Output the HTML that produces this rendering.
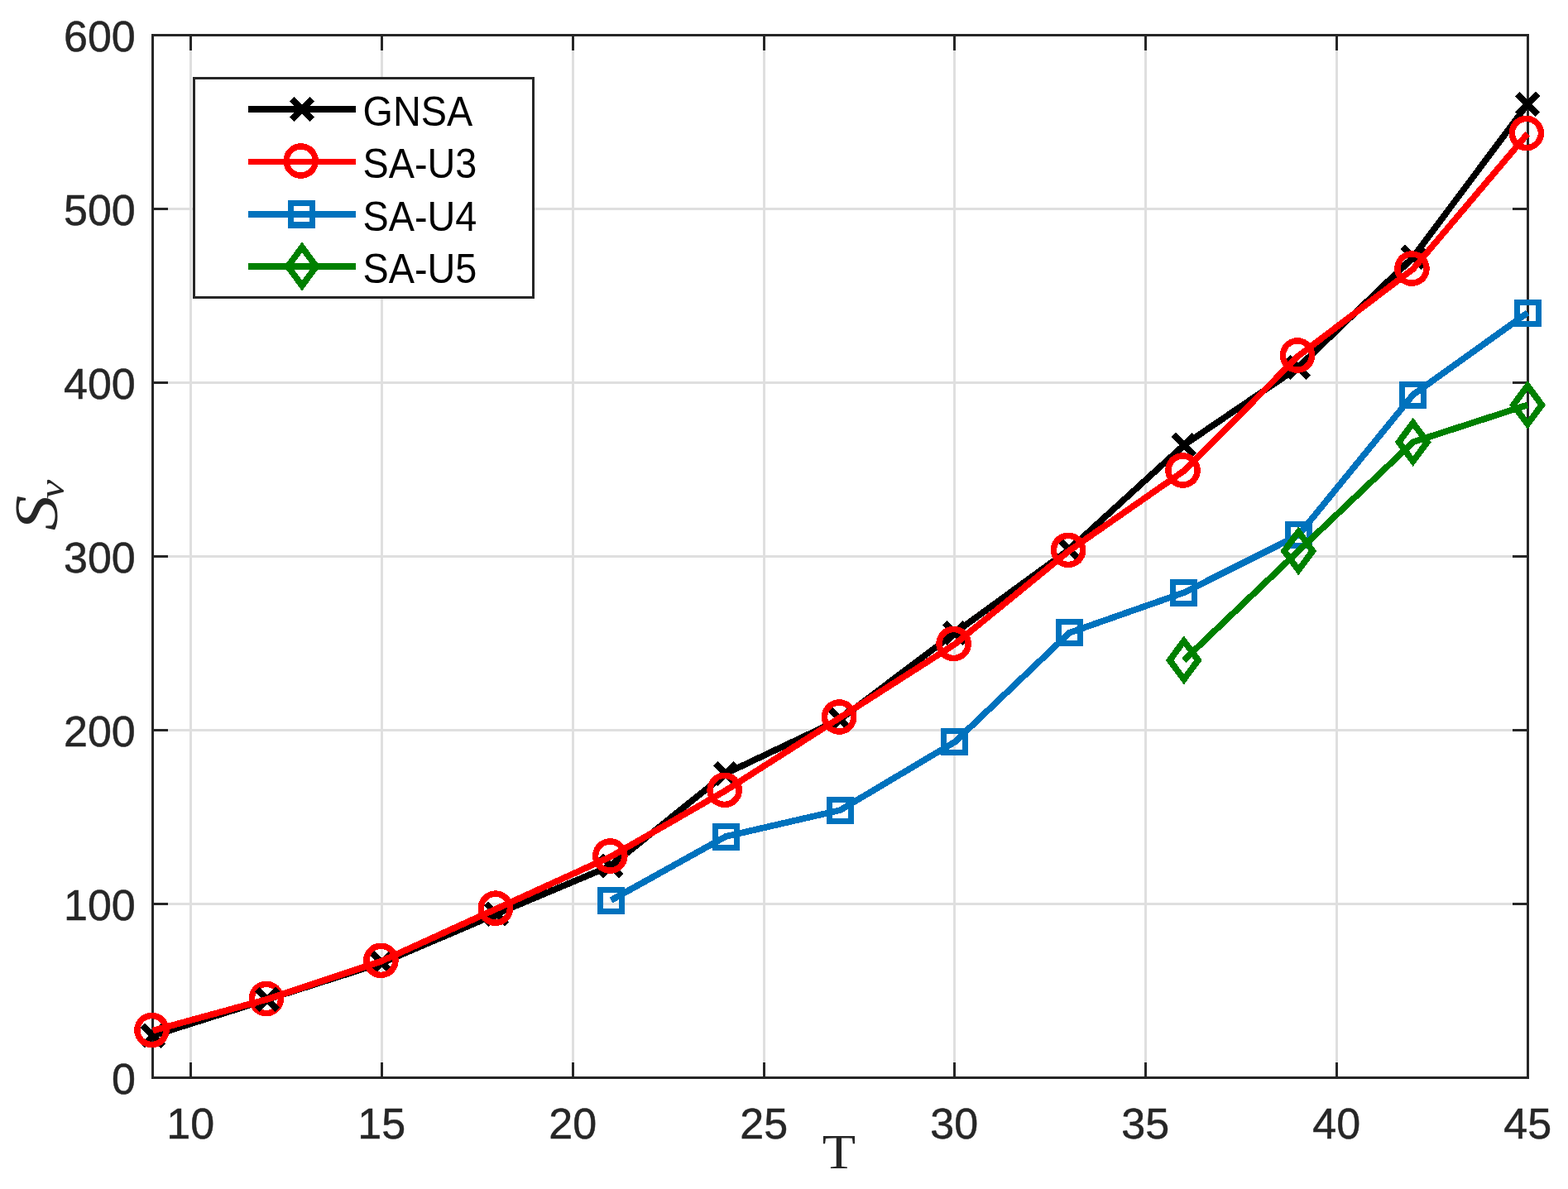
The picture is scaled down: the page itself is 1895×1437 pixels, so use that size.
<!DOCTYPE html>
<html lang="en"><head><meta charset="utf-8"><title>Figure</title>
<style>
html,body{margin:0;padding:0;background:#fff;}
body{width:1895px;height:1437px;overflow:hidden;}
svg{display:block;}
.tick{font-family:"Liberation Sans",Arial,Helvetica,sans-serif;font-size:52px;fill:#262626;stroke:#262626;stroke-width:0.5px;}
.leg{font-family:"Liberation Sans",Arial,Helvetica,sans-serif;font-size:49.3px;fill:#000;}
.lab{font-family:"Liberation Serif","Times New Roman",serif;fill:#262626;}
</style></head><body>
<svg width="1895" height="1437" viewBox="0 0 1895 1437">
<rect x="0" y="0" width="1895" height="1437" fill="#fff"/>
<defs><path id="ring" fill-rule="evenodd" d="M21.29 0.70L21.20 2.09L21.02 3.47L20.74 4.84L20.38 6.18L19.93 7.50L19.40 8.79L18.78 10.04L18.09 11.25L17.31 12.41L16.47 13.51L15.55 14.56L14.56 15.55L13.51 16.47L12.41 17.31L11.25 18.09L10.04 18.78L8.79 19.40L7.50 19.93L6.18 20.38L4.84 20.74L3.47 21.02L2.09 21.20L0.70 21.29L-0.70 21.29L-2.09 21.20L-3.47 21.02L-4.84 20.74L-6.18 20.38L-7.50 19.93L-8.79 19.40L-10.04 18.78L-11.25 18.09L-12.41 17.31L-13.51 16.47L-14.56 15.55L-15.55 14.56L-16.47 13.51L-17.31 12.41L-18.09 11.25L-18.78 10.04L-19.40 8.79L-19.93 7.50L-20.38 6.18L-20.74 4.84L-21.02 3.47L-21.20 2.09L-21.29 0.70L-21.29 -0.70L-21.20 -2.09L-21.02 -3.47L-20.74 -4.84L-20.38 -6.18L-19.93 -7.50L-19.40 -8.79L-18.78 -10.04L-18.09 -11.25L-17.31 -12.41L-16.47 -13.51L-15.55 -14.56L-14.56 -15.55L-13.51 -16.47L-12.41 -17.31L-11.25 -18.09L-10.04 -18.78L-8.79 -19.40L-7.50 -19.93L-6.18 -20.38L-4.84 -20.74L-3.47 -21.02L-2.09 -21.20L-0.70 -21.29L0.70 -21.29L2.09 -21.20L3.47 -21.02L4.84 -20.74L6.18 -20.38L7.50 -19.93L8.79 -19.40L10.04 -18.78L11.25 -18.09L12.41 -17.31L13.51 -16.47L14.56 -15.55L15.55 -14.56L16.47 -13.51L17.31 -12.41L18.09 -11.25L18.78 -10.04L19.40 -8.79L19.93 -7.50L20.38 -6.18L20.74 -4.84L21.02 -3.47L21.20 -2.09L21.29 -0.70ZM13.79 -0.45L13.73 -1.35L13.62 -2.25L13.44 -3.13L13.21 -4.01L12.92 -4.86L12.57 -5.70L12.17 -6.51L11.72 -7.29L11.22 -8.04L10.67 -8.75L10.07 -9.43L9.43 -10.07L8.75 -10.67L8.04 -11.22L7.29 -11.72L6.51 -12.17L5.70 -12.57L4.86 -12.92L4.01 -13.21L3.13 -13.44L2.25 -13.62L1.35 -13.73L0.45 -13.79L-0.45 -13.79L-1.35 -13.73L-2.25 -13.62L-3.13 -13.44L-4.01 -13.21L-4.86 -12.92L-5.70 -12.57L-6.51 -12.17L-7.29 -11.72L-8.04 -11.22L-8.75 -10.67L-9.43 -10.07L-10.07 -9.43L-10.67 -8.75L-11.22 -8.04L-11.72 -7.29L-12.17 -6.51L-12.57 -5.70L-12.92 -4.86L-13.21 -4.01L-13.44 -3.13L-13.62 -2.25L-13.73 -1.35L-13.79 -0.45L-13.79 0.45L-13.73 1.35L-13.62 2.25L-13.44 3.13L-13.21 4.01L-12.92 4.86L-12.57 5.70L-12.17 6.51L-11.72 7.29L-11.22 8.04L-10.67 8.75L-10.07 9.43L-9.43 10.07L-8.75 10.67L-8.04 11.22L-7.29 11.72L-6.51 12.17L-5.70 12.57L-4.86 12.92L-4.01 13.21L-3.13 13.44L-2.25 13.62L-1.35 13.73L-0.45 13.79L0.45 13.79L1.35 13.73L2.25 13.62L3.13 13.44L4.01 13.21L4.86 12.92L5.70 12.57L6.51 12.17L7.29 11.72L8.04 11.22L8.75 10.67L9.43 10.07L10.07 9.43L10.67 8.75L11.22 8.04L11.72 7.29L12.17 6.51L12.57 5.70L12.92 4.86L13.21 4.01L13.44 3.13L13.62 2.25L13.73 1.35L13.79 0.45Z"/>
<path id="sq" fill-rule="evenodd" d="M-16.5 -16.5H16.5V16.5H-16.5ZM-9.5 -9.5V9.5H9.5V-9.5Z"/>
<path id="sql" fill-rule="evenodd" d="M-16.5 -16.9H16.5V17H-16.5ZM-9.5 -10V9H9.5V-10Z"/>
<path id="dia" fill-rule="evenodd" d="M0 -29.6L22 0L0 29.6L-22 0ZM0 -16.9L-12.3 0L0 16.9L12.3 0Z"/></defs>
<g stroke="#dfdfdf" stroke-width="3" fill="none">
<line x1="230.5" y1="42.5" x2="230.5" y2="1302.5"/>
<line x1="461.5" y1="42.5" x2="461.5" y2="1302.5"/>
<line x1="692.5" y1="42.5" x2="692.5" y2="1302.5"/>
<line x1="923.5" y1="42.5" x2="923.5" y2="1302.5"/>
<line x1="1153.5" y1="42.5" x2="1153.5" y2="1302.5"/>
<line x1="1384.5" y1="42.5" x2="1384.5" y2="1302.5"/>
<line x1="1615.5" y1="42.5" x2="1615.5" y2="1302.5"/>
<line x1="184.5" y1="1092.5" x2="1846.5" y2="1092.5"/>
<line x1="184.5" y1="882.5" x2="1846.5" y2="882.5"/>
<line x1="184.5" y1="672.5" x2="1846.5" y2="672.5"/>
<line x1="184.5" y1="462.5" x2="1846.5" y2="462.5"/>
<line x1="184.5" y1="252.5" x2="1846.5" y2="252.5"/>
</g>
<g stroke="#262626" stroke-width="3" fill="none">
<rect x="184.5" y="42.5" width="1662" height="1260"/>
<line x1="230.5" y1="1302.5" x2="230.5" y2="1284"/>
<line x1="230.5" y1="42.5" x2="230.5" y2="61"/>
<line x1="461.5" y1="1302.5" x2="461.5" y2="1284"/>
<line x1="461.5" y1="42.5" x2="461.5" y2="61"/>
<line x1="692.5" y1="1302.5" x2="692.5" y2="1284"/>
<line x1="692.5" y1="42.5" x2="692.5" y2="61"/>
<line x1="923.5" y1="1302.5" x2="923.5" y2="1284"/>
<line x1="923.5" y1="42.5" x2="923.5" y2="61"/>
<line x1="1153.5" y1="1302.5" x2="1153.5" y2="1284"/>
<line x1="1153.5" y1="42.5" x2="1153.5" y2="61"/>
<line x1="1384.5" y1="1302.5" x2="1384.5" y2="1284"/>
<line x1="1384.5" y1="42.5" x2="1384.5" y2="61"/>
<line x1="1615.5" y1="1302.5" x2="1615.5" y2="1284"/>
<line x1="1615.5" y1="42.5" x2="1615.5" y2="61"/>
<line x1="184.5" y1="1092.5" x2="203" y2="1092.5"/>
<line x1="1846.5" y1="1092.5" x2="1828" y2="1092.5"/>
<line x1="184.5" y1="882.5" x2="203" y2="882.5"/>
<line x1="1846.5" y1="882.5" x2="1828" y2="882.5"/>
<line x1="184.5" y1="672.5" x2="203" y2="672.5"/>
<line x1="1846.5" y1="672.5" x2="1828" y2="672.5"/>
<line x1="184.5" y1="462.5" x2="203" y2="462.5"/>
<line x1="1846.5" y1="462.5" x2="1828" y2="462.5"/>
<line x1="184.5" y1="252.5" x2="203" y2="252.5"/>
<line x1="1846.5" y1="252.5" x2="1828" y2="252.5"/>
</g>
<g class="tick" text-anchor="middle">
<text transform="translate(230.2,1376) scale(1,1)">10</text>
<text transform="translate(461.2,1376) scale(1,1)">15</text>
<text transform="translate(692.2,1376) scale(1,1)">20</text>
<text transform="translate(923.2,1376) scale(1,1)">25</text>
<text transform="translate(1153.2,1376) scale(1,1)">30</text>
<text transform="translate(1384.2,1376) scale(1,1)">35</text>
<text transform="translate(1615.2,1376) scale(1,1)">40</text>
<text transform="translate(1846.2,1376) scale(1,1)">45</text>
</g>
<g class="tick" text-anchor="end">
<text transform="translate(163.8,1322.1) scale(1,1)">0</text>
<text transform="translate(163.8,1112.1) scale(1,1)">100</text>
<text transform="translate(163.8,902.1) scale(1,1)">200</text>
<text transform="translate(163.8,692.1) scale(1,1)">300</text>
<text transform="translate(163.8,482.1) scale(1,1)">400</text>
<text transform="translate(163.8,272.1) scale(1,1)">500</text>
<text transform="translate(163.8,62.1) scale(1,1)">600</text>
</g>
<g shape-rendering="crispEdges">
<polyline points="184.75,1251.8 323.2,1207.9 461.65,1163.7 600.1,1104.6 738.55,1046.3 877,935 1015.45,869.3 1153.9,765 1292.35,664.1 1430.8,538 1569.25,443.8 1707.7,311 1846.15,125.8" stroke="#000000" stroke-width="7.7" fill="none" stroke-linejoin="round"/>
<path d="M172.35 1239.4L197.15 1264.2M172.35 1264.2L197.15 1239.4" stroke="#000000" stroke-width="7.7" fill="none"/>
<path d="M310.8 1195.5L335.6 1220.3M310.8 1220.3L335.6 1195.5" stroke="#000000" stroke-width="7.7" fill="none"/>
<path d="M449.25 1151.3L474.05 1176.1M449.25 1176.1L474.05 1151.3" stroke="#000000" stroke-width="7.7" fill="none"/>
<path d="M587.7 1092.2L612.5 1117M587.7 1117L612.5 1092.2" stroke="#000000" stroke-width="7.7" fill="none"/>
<path d="M726.15 1033.9L750.95 1058.7M726.15 1058.7L750.95 1033.9" stroke="#000000" stroke-width="7.7" fill="none"/>
<path d="M864.6 922.6L889.4 947.4M864.6 947.4L889.4 922.6" stroke="#000000" stroke-width="7.7" fill="none"/>
<path d="M1003.05 856.9L1027.85 881.7M1003.05 881.7L1027.85 856.9" stroke="#000000" stroke-width="7.7" fill="none"/>
<path d="M1141.5 752.6L1166.3 777.4M1141.5 777.4L1166.3 752.6" stroke="#000000" stroke-width="7.7" fill="none"/>
<path d="M1279.95 651.7L1304.75 676.5M1279.95 676.5L1304.75 651.7" stroke="#000000" stroke-width="7.7" fill="none"/>
<path d="M1418.4 525.6L1443.2 550.4M1418.4 550.4L1443.2 525.6" stroke="#000000" stroke-width="7.7" fill="none"/>
<path d="M1556.85 431.4L1581.65 456.2M1556.85 456.2L1581.65 431.4" stroke="#000000" stroke-width="7.7" fill="none"/>
<path d="M1695.3 298.6L1720.1 323.4M1695.3 323.4L1720.1 298.6" stroke="#000000" stroke-width="7.7" fill="none"/>
<path d="M1833.75 113.4L1858.55 138.2M1833.75 138.2L1858.55 113.4" stroke="#000000" stroke-width="7.7" fill="none"/>
<use href="#ring" x="183.45" y="1245" fill="#ff0000"/>
<use href="#ring" x="321.9" y="1207" fill="#ff0000"/>
<use href="#ring" x="460.35" y="1160.8" fill="#ff0000"/>
<use href="#ring" x="598.8" y="1097.7" fill="#ff0000"/>
<use href="#ring" x="737.25" y="1034.5" fill="#ff0000"/>
<use href="#ring" x="875.7" y="954.8" fill="#ff0000"/>
<use href="#ring" x="1014.15" y="866.5" fill="#ff0000"/>
<use href="#ring" x="1152.6" y="778" fill="#ff0000"/>
<use href="#ring" x="1291.05" y="664.9" fill="#ff0000"/>
<use href="#ring" x="1429.5" y="568.5" fill="#ff0000"/>
<use href="#ring" x="1567.95" y="429.5" fill="#ff0000"/>
<use href="#ring" x="1706.4" y="324.6" fill="#ff0000"/>
<use href="#ring" x="1844.85" y="161" fill="#ff0000"/>
<path d="M310.8 1195.5L335.6 1220.3M310.8 1220.3L335.6 1195.5" stroke="#000000" stroke-width="7.7" fill="none"/>
<polyline points="184.75,1245.6 323.2,1207.6 461.65,1161.4 600.1,1098.3 738.55,1035.1 877,955.4 1015.45,867.1 1153.9,778.6 1292.35,665.5 1430.8,569.1 1569.25,430.1 1707.7,325.2 1846.15,161.6" stroke="#ff0000" stroke-width="7.7" fill="none" stroke-linejoin="round"/>
<polyline points="738.55,1088 877,1011 1015.45,979.1 1153.9,896.7 1292.35,764.8 1430.8,716.2 1569.25,646.8 1707.7,477.1 1846.15,378" stroke="#0072bd" stroke-width="7.7" fill="none" stroke-linejoin="round"/>
<use href="#sq" x="738.55" y="1088" fill="#0072bd"/>
<use href="#sq" x="877" y="1011" fill="#0072bd"/>
<use href="#sq" x="1015.45" y="979.1" fill="#0072bd"/>
<use href="#sq" x="1153.9" y="896.7" fill="#0072bd"/>
<use href="#sq" x="1292.35" y="764.8" fill="#0072bd"/>
<use href="#sq" x="1430.8" y="716.2" fill="#0072bd"/>
<use href="#sq" x="1569.25" y="646.8" fill="#0072bd"/>
<use href="#sq" x="1707.7" y="477.1" fill="#0072bd"/>
<use href="#sq" x="1846.15" y="378" fill="#0072bd"/>
<polyline points="1430.8,797.9 1569.25,665.9 1707.7,534.3 1846.15,489.4" stroke="#008000" stroke-width="7.7" fill="none" stroke-linejoin="round"/>
<use href="#dia" x="1430.8" y="797.9" fill="#008000"/>
<use href="#dia" x="1569.25" y="665.9" fill="#008000"/>
<use href="#dia" x="1707.7" y="534.3" fill="#008000"/>
<use href="#dia" x="1846.15" y="489.4" fill="#008000"/>
</g>
<rect x="234.5" y="94.5" width="410" height="265" fill="#fff" stroke="#262626" stroke-width="3"/>
<g shape-rendering="crispEdges">
<line x1="300" y1="132" x2="430" y2="132" stroke="#000000" stroke-width="8"/>
<path d="M352.6 119.6L377.4 144.4M352.6 144.4L377.4 119.6" stroke="#000000" stroke-width="7.7" fill="none"/>
<line x1="300" y1="195.5" x2="430" y2="195.5" stroke="#ff0000" stroke-width="7"/>
<use href="#ring" x="363.7" y="194.5" fill="#ff0000"/>
<line x1="300" y1="259" x2="430" y2="259" stroke="#0072bd" stroke-width="8"/>
<use href="#sql" x="364.5" y="259" fill="#0072bd"/>
<line x1="300" y1="322" x2="430" y2="322" stroke="#008000" stroke-width="8"/>
<use href="#dia" x="365" y="322" fill="#008000"/>
</g>
<g class="leg">
<text transform="translate(438.6,151.6) scale(0.949,1)">GNSA</text>
<text transform="translate(438.6,215.1) scale(0.949,1)">SA-U3</text>
<text transform="translate(438.6,278.6) scale(0.949,1)">SA-U4</text>
<text transform="translate(438.6,341.6) scale(0.949,1)">SA-U5</text>
</g>
<text class="lab" transform="translate(1014,1412) scale(1.11,1)" text-anchor="middle" font-size="59.5">T</text>
<text class="lab" transform="translate(68.6,641.2) rotate(-90) scale(1.16,1)" font-size="73.5" font-style="italic">S<tspan x="33.2" y="8.2" font-size="44.5">v</tspan></text>
</svg>
</body></html>
